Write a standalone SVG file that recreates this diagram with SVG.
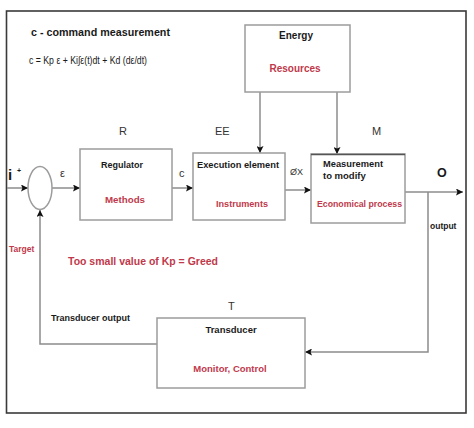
<svg xmlns="http://www.w3.org/2000/svg" width="474" height="428" viewBox="0 0 474 428">
<style>
.box{fill:#fff;stroke:#9c9c9c;stroke-width:1.5}
.ln{fill:none;stroke:#8c8c8c;stroke-width:1.5}
.t{font-family:"Liberation Sans",Arial,sans-serif;font-weight:bold;font-size:9px;fill:#1a1a1a}
.r{font-family:"Liberation Sans",Arial,sans-serif;font-weight:bold;font-size:9px;fill:#c0394b}
.lb{font-family:"Liberation Sans Narrow","Liberation Sans",Arial,sans-serif;font-size:11px;fill:#333}
</style>
<defs>
<marker id="ah" viewBox="0 0 10 10" refX="10" refY="5" markerWidth="7" markerHeight="7" markerUnits="userSpaceOnUse" orient="auto">
<path d="M0,0 L10,5 L0,10 L2,5 z" fill="#111"/>
</marker>
</defs>
<rect x="0" y="0" width="474" height="428" fill="#fff"/>
<rect x="6.5" y="11" width="459.5" height="402" fill="none" stroke="#3a3a3a" stroke-width="1.6"/>

<text class="t" x="31" y="36" style="font-size:10.5px" textLength="139" lengthAdjust="spacingAndGlyphs">c - command measurement</text>
<text class="lb" x="29" y="64" style="font-size:11px;fill:#1a1a1a" textLength="118" lengthAdjust="spacingAndGlyphs">c = Kp ε + Ki∫ε(t)dt + Kd (dε/dt)</text>

<g id="connectors">
<line class="ln" x1="7" y1="188" x2="28" y2="188" marker-end="url(#ah)"/>
<line class="ln" x1="52" y1="188" x2="80" y2="188" marker-end="url(#ah)"/>
<line class="ln" x1="172" y1="188" x2="193" y2="188" marker-end="url(#ah)"/>
<line class="ln" x1="285" y1="190" x2="311" y2="190" marker-end="url(#ah)"/>
<line class="ln" x1="405" y1="192" x2="463" y2="192" marker-end="url(#ah)"/>
<line class="ln" x1="260" y1="92" x2="260" y2="153" marker-end="url(#ah)"/>
<line class="ln" x1="337" y1="92" x2="337" y2="154" marker-end="url(#ah)"/>
<polyline class="ln" points="428,192 428,352 305,352" marker-end="url(#ah)"/>
<polyline class="ln" points="157,344 40,344 40,210" marker-end="url(#ah)"/>
</g>

<g id="sum">
<ellipse cx="40" cy="188" rx="12" ry="21.5" fill="#fff" stroke="#9c9c9c" stroke-width="1.5"/>
</g>
<text class="t" x="8" y="180" style="font-size:15px">i</text>
<text class="t" x="17" y="173" style="font-size:7px">+</text>
<text class="lb" x="60" y="177">ε</text>

<g id="energy">
<rect class="box" x="245" y="25" width="105" height="67"/>
<text class="t" x="296" y="39" text-anchor="middle" style="font-size:10px">Energy</text>
<text class="r" x="295" y="72" text-anchor="middle" style="font-size:10px">Resources</text>
</g>

<g id="regulator">
<rect class="box" x="80" y="149" width="92" height="71"/>
<text class="t" x="101" y="168" textLength="42" lengthAdjust="spacingAndGlyphs" style="font-size:9.5px">Regulator</text>
<text class="r" x="105" y="203" textLength="40" lengthAdjust="spacingAndGlyphs" style="font-size:9.5px">Methods</text>
</g>
<text class="lb" x="119" y="135">R</text>
<text class="lb" x="179" y="177">c</text>

<g id="ee">
<rect class="box" x="193" y="153" width="92" height="67"/>
<text class="t" x="197" y="168" textLength="82" lengthAdjust="spacingAndGlyphs" style="font-size:9.5px">Execution element</text>
<text class="r" x="216" y="207" textLength="52" lengthAdjust="spacingAndGlyphs" style="font-size:9.5px">Instruments</text>
</g>
<text class="lb" x="215" y="135">EE</text>
<text class="lb" x="290" y="175" style="font-size:9px">ØX</text>

<g id="m">
<rect class="box" x="311" y="154" width="94" height="69"/>
<line x1="311" y1="154.5" x2="405" y2="154.5" stroke="#555" stroke-width="1.5"/>
<text class="t" x="323" y="167" textLength="60" lengthAdjust="spacingAndGlyphs" style="font-size:9.5px">Measurement</text>
<text class="t" x="323" y="179" style="font-size:9.5px">to modify</text>
<text class="r" x="317" y="207" textLength="85" lengthAdjust="spacingAndGlyphs" style="font-size:9.5px">Economical process</text>
</g>
<text class="lb" x="372" y="135">M</text>
<text class="t" x="437" y="177" style="font-size:12.5px">O</text>
<text class="t" x="430" y="229" style="font-size:8.5px">output</text>

<g id="transducer">
<rect class="box" x="157" y="318" width="148" height="70"/>
<text class="t" x="231" y="333" text-anchor="middle" style="font-size:9.5px">Transducer</text>
<text class="r" x="230" y="372" text-anchor="middle" style="font-size:9.5px">Monitor, Control</text>
</g>
<text class="lb" x="228" y="310">T</text>
<text class="t" x="51" y="321" textLength="79" lengthAdjust="spacingAndGlyphs" style="font-size:9.5px">Transducer output</text>
<text class="r" x="9" y="252" style="font-size:8.5px">Target</text>
<text class="r" x="68" y="265" style="font-size:11.5px" textLength="150" lengthAdjust="spacingAndGlyphs">Too small value of Kp = Greed</text>
</svg>
